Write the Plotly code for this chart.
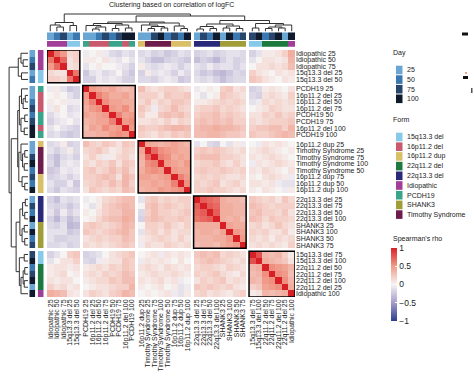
import plotly.graph_objects as go

W, H = 474, 379

labels = [
    "Idiopathic 25", "Idiopathic 50", "Idiopathic 75", "15q13.3 del 25", "15q13.3 del 50",
    "PCDH19 25", "16p11.2 del 25", "16p11.2 del 50", "16p11.2 del 75", "PCDH19 50", "PCDH19 75",
    "16p11.2 del 100", "PCDH19 100",
    "16p11.2 dup 25", "Timothy Syndrome 25", "Timothy Syndrome 75", "Timothy Syndrome 100",
    "Timothy Syndrome 50", "16p11.2 dup 75", "16p11.2 dup 50", "16p11.2 dup 100",
    "22q13.3 del 25", "22q13.3 del 75", "22q13.3 del 50", "22q13.3 del 100",
    "SHANK3 25", "SHANK3 100", "SHANK3 50", "SHANK3 75",
    "15q13.3 del 75", "15q13.3 del 100", "22q11.2 del 50", "22q11.2 del 75",
    "22q11.2 del 100", "22q11.2 del 25", "Idiopathic 100"]
block_sizes = [5, 8, 8, 8, 7]

# lower triangle of Spearman's rho (row i, columns 0..i-1); diagonal = 1
rho_lower = [
    [],
    [0.65],
    [0.5, 0.7],
    [0.15, 0.1, 0.1],
    [0.2, 0.2, 0.15, 0.65],
    [-0.05, 0.05, -0.1, -0.25, -0.2],
    [0.0, 0.05, 0.0, -0.1, -0.2, 0.5],
    [0.05, 0.0, 0.05, -0.05, -0.05, 0.45, 0.6],
    [-0.05, 0.1, 0.0, -0.15, -0.1, 0.4, 0.5, 0.55],
    [-0.15, -0.05, 0.0, -0.1, -0.05, 0.45, 0.4, 0.45, 0.5],
    [-0.2, -0.1, -0.05, 0.0, -0.1, 0.35, 0.4, 0.45, 0.45, 0.6],
    [-0.1, 0.0, -0.1, -0.15, -0.2, 0.3, 0.45, 0.4, 0.55, 0.45, 0.5],
    [-0.15, -0.1, -0.2, -0.25, -0.2, 0.35, 0.35, 0.4, 0.4, 0.5, 0.55, 0.5],
    [-0.15, -0.1, 0.05, -0.2, -0.15, 0.3, 0.2, 0.15, 0.25, 0.2, 0.1, 0.25, 0.2],
    [-0.1, -0.2, -0.1, 0.05, -0.15, 0.15, 0.2, 0.25, 0.15, 0.05, 0.1, 0.2, 0.15, 0.45],
    [-0.2, -0.3, -0.15, -0.1, -0.2, 0.1, 0.2, 0.1, -0.05, 0.05, 0.15, 0.2, 0.1, 0.4, 0.7],
    [-0.15, -0.3, -0.1, -0.05, -0.1, 0.15, 0.1, 0.2, 0.15, 0.25, 0.1, 0.25, 0.2, 0.35, 0.55, 0.6],
    [-0.25, -0.2, -0.05, -0.1, -0.05, 0.2, 0.25, 0.15, 0.2, 0.3, 0.2, 0.3, 0.15, 0.4, 0.5, 0.55, 0.5],
    [-0.2, -0.15, -0.1, -0.2, -0.1, 0.2, 0.2, 0.25, 0.3, 0.25, 0.1, 0.35, 0.25, 0.45, 0.45, 0.4, 0.45, 0.5],
    [-0.1, -0.2, -0.2, -0.05, -0.25, 0.15, 0.2, 0.25, 0.2, 0.3, 0.2, 0.35, 0.2, 0.4, 0.4, 0.45, 0.4, 0.45, 0.6],
    [-0.15, -0.25, -0.1, -0.15, -0.2, 0.1, 0.25, 0.2, 0.15, 0.2, 0.15, 0.3, 0.25, 0.35, 0.4, 0.4, 0.5, 0.45, 0.5, 0.55],
    [-0.2, -0.3, -0.1, -0.15, -0.1, -0.05, 0.0, 0.05, 0.15, 0.2, 0.25, 0.3, 0.3, -0.1, 0.2, 0.25, 0.15, 0.2, 0.15, 0.2, 0.2],
    [-0.15, -0.2, -0.15, -0.25, -0.15, 0.0, -0.1, 0.05, 0.2, 0.25, 0.3, 0.35, 0.3, 0.0, 0.25, 0.3, 0.2, 0.25, 0.2, 0.15, 0.2, 0.75],
    [-0.1, -0.25, -0.05, -0.2, -0.1, 0.05, 0.0, 0.1, 0.2, 0.25, 0.25, 0.35, 0.35, -0.15, 0.2, 0.3, 0.2, 0.2, 0.15, 0.2, 0.25, 0.7, 0.75],
    [-0.2, -0.35, -0.15, -0.3, -0.2, 0.0, 0.05, 0.15, 0.25, 0.3, 0.3, 0.4, 0.35, -0.2, 0.25, 0.3, 0.25, 0.2, 0.2, 0.25, 0.2, 0.65, 0.7, 0.75],
    [-0.15, -0.2, -0.1, -0.35, -0.3, 0.2, 0.25, 0.2, 0.15, 0.2, 0.25, 0.35, 0.3, 0.0, 0.2, 0.2, 0.15, 0.25, 0.15, 0.1, 0.2, 0.4, 0.4, 0.4, 0.4],
    [-0.1, -0.1, -0.1, -0.25, -0.2, 0.25, 0.2, 0.15, 0.2, 0.25, 0.3, 0.35, 0.25, -0.1, 0.15, 0.2, 0.1, 0.2, 0.1, 0.15, 0.15, 0.35, 0.4, 0.4, 0.35, 0.45],
    [-0.1, -0.2, -0.2, -0.15, -0.15, 0.1, 0.15, 0.2, 0.15, 0.2, 0.2, 0.3, 0.25, 0.05, 0.1, 0.15, 0.2, 0.15, 0.1, 0.2, 0.1, 0.35, 0.35, 0.35, 0.4, 0.4, 0.5],
    [-0.15, -0.15, -0.1, -0.2, -0.15, 0.15, 0.1, 0.15, 0.1, 0.15, 0.2, 0.25, 0.2, -0.05, 0.15, 0.1, 0.1, 0.2, 0.15, 0.1, 0.15, 0.3, 0.35, 0.35, 0.3, 0.4, 0.45, 0.5],
    [-0.2, -0.1, 0.0, 0.2, 0.25, -0.2, -0.15, -0.1, 0.0, 0.1, 0.15, 0.2, 0.25, 0.0, 0.05, 0.1, -0.05, 0.1, 0.05, 0.1, 0.05, 0.25, 0.3, 0.25, 0.3, 0.15, 0.2, 0.15, 0.1],
    [-0.1, 0.0, 0.1, 0.1, 0.2, -0.15, -0.2, -0.05, 0.05, 0.1, 0.1, 0.25, 0.2, -0.05, 0.1, 0.05, 0.1, 0.05, 0.0, 0.1, 0.0, 0.2, 0.25, 0.3, 0.25, 0.2, 0.15, 0.1, 0.15, 0.8],
    [0.05, 0.1, 0.1, 0.05, 0.1, 0.05, 0.1, 0.15, 0.1, 0.2, 0.15, 0.25, 0.2, 0.1, 0.15, 0.1, 0.05, 0.15, 0.1, 0.05, 0.1, 0.15, 0.2, 0.2, 0.15, 0.1, 0.2, 0.15, 0.1, 0.35, 0.4],
    [0.05, 0.1, 0.15, 0.0, 0.05, 0.1, 0.15, 0.1, 0.2, 0.15, 0.2, 0.3, 0.25, 0.05, 0.1, 0.15, 0.1, 0.1, 0.15, 0.1, 0.05, 0.2, 0.15, 0.2, 0.25, 0.15, 0.1, 0.05, 0.15, 0.3, 0.35, 0.55],
    [0.1, 0.05, 0.1, 0.1, 0.0, 0.05, 0.1, 0.15, 0.15, 0.25, 0.2, 0.3, 0.3, 0.1, 0.05, 0.1, 0.15, 0.05, 0.1, -0.05, 0.0, 0.1, 0.2, 0.15, 0.2, 0.25, 0.1, 0.15, 0.1, 0.35, 0.3, 0.5, 0.55],
    [0.2, 0.1, 0.15, 0.05, 0.1, 0.0, 0.05, 0.1, 0.1, 0.15, 0.2, 0.2, 0.35, 0.05, 0.0, 0.05, 0.1, 0.0, 0.05, -0.1, -0.05, 0.25, 0.2, 0.25, 0.2, 0.15, 0.2, 0.1, 0.05, 0.2, 0.25, 0.45, 0.5, 0.55],
    [0.4, 0.35, 0.3, 0.1, 0.05, 0.1, 0.2, 0.15, 0.1, 0.2, 0.25, 0.35, 0.3, 0.0, 0.05, 0.0, 0.05, 0.1, -0.05, -0.1, 0.05, 0.15, 0.2, 0.1, 0.15, 0.1, 0.05, 0.15, 0.2, 0.05, 0.1, 0.35, 0.3, 0.35, 0.4],
]

# dendrogram (same for rows and columns): [height, left, right], leaves are label indices
block1 = [9.0, [6.5, 0, [4.5, 1, 2]], [6.0, 3, 4]]
block2 = [8.0, [6.0, 5, [4.5, [2.5, 6, 7], 8]], [6.5, [3.0, 9, 10], [3.5, 11, 12]]]
block3 = [8.5, [6.5, 13, [5.0, [3.0, 14, 15], [3.5, 16, 17]]], [5.5, 18, [3.0, 19, 20]]]
block4 = [7.5, [5.0, [2.5, 21, 22], [3.0, 23, 24]], [5.5, [3.5, 25, 26], [3.0, 27, 28]]]
block5 = [8.0, [3.5, 29, 30], [6.5, [4.5, [3.0, 31, 32], [3.5, 33, 34]], 35]]
tree = [17.5, block1, [15.5, [9.5, block2, block3], [11.0, block4, block5]]]

day_levels = ["25", "50", "75", "100"]
day_colors = ["#6aa6d4", "#3b78b0", "#28466b", "#0f1b2d"]
form_levels = ["15q13.3 del", "16p11.2 del", "16p11.2 dup", "22q11.2 del", "22q13.3 del",
               "Idiopathic", "PCDH19", "SHANK3", "Timothy Syndrome"]
form_colors = ["#86c9e8", "#c9596c", "#d9c068", "#1d7a3e", "#2a2878",
               "#a23e98", "#3aa38b", "#a19e3a", "#6d1c4b"]

rho_scale = [[0.0, "#2c3c8f"], [0.25, "#a69dca"], [0.5, "#f6f3f3"],
             [0.75, "#f09b89"], [1.0, "#d91f26"]]

TXT = "#222222"
FONT = "Liberation Sans, Arial, sans-serif"
FS = 7.0

# ---------------- build matrix ----------------
n = len(labels)
assert sum(block_sizes) == n
for i, r in enumerate(rho_lower):
    assert len(r) == i, i
M = [[1.0] * n for _ in range(n)]
for i in range(n):
    for j in range(i):
        M[i][j] = rho_lower[i][j]
        M[j][i] = rho_lower[i][j]

GAP = 0.44
slots = []
start = 0
for b, s in enumerate(block_sizes):
    slots.extend(range(start, start + s))
    start += s
    if b < len(block_sizes) - 1:
        slots.append(None)
edges = [0.0]
for s in slots:
    edges.append(edges[-1] + (1.0 if s is not None else GAP))
T = edges[-1]
center = {}
for k, s in enumerate(slots):
    if s is not None:
        center[s] = (edges[k] + edges[k + 1]) / 2
z_disp = [[(M[a][b] if (a is not None and b is not None) else None) for b in slots] for a in slots]

spans = []
start = 0
for s in block_sizes:
    spans.append((center[start] - 0.5, center[start + s - 1] + 0.5))
    start += s

forms = [lab.rsplit(" ", 1)[0] for lab in labels]
days = [lab.rsplit(" ", 1)[1] for lab in labels]
form_code = [form_levels.index(f) for f in forms]
day_code = [day_levels.index(d) for d in days]


def step_scale(colors):
    k = len(colors)
    sc = []
    for i, c in enumerate(colors):
        sc.append([i / k, c])
        sc.append([(i + 1) / k, c])
    return sc


def xf(p):
    return p / W


def yf(p):
    return 1 - p / H


dx, dh = [], []


def walk(node):
    if isinstance(node, int):
        return center[node], 0.0
    h, l, r = node
    xl, hl = walk(l)
    xr, hr = walk(r)
    dx.extend([xl, xl, xr, xr, None])
    dh.extend([hl, h, h, hr, None])
    return (xl + xr) / 2, h


walk(tree)

fig = go.Figure()

fig.add_trace(go.Heatmap(
    z=z_disp, x=edges, y=edges, zmin=-1, zmax=1, colorscale=rho_scale,
    hoverinfo="skip", xaxis="x", yaxis="y",
    colorbar=dict(x=xf(391), xanchor="left", y=yf(284.5), yanchor="middle",
                  len=73 / H, lenmode="fraction", thickness=6, thicknessmode="pixels",
                  xpad=0, ypad=0, outlinewidth=0,
                  tickvals=[-1, -0.5, 0, 0.5, 1], ticktext=["\u22121", "\u22120.5", "0", "0.5", "1"],
                  ticks="inside", ticklen=2, tickcolor="white", tickwidth=1,
                  tickfont=dict(size=8.5, color=TXT, family=FONT)),
))

top_day = [[(day_code[s] + 0.5 if s is not None else None) for s in slots]]
top_form = [[(form_code[s] + 0.5 if s is not None else None) for s in slots]]
fig.add_trace(go.Heatmap(z=top_day, x=edges, y=[0, 1], zmin=0, zmax=len(day_levels),
                         colorscale=step_scale(day_colors), showscale=False, hoverinfo="skip",
                         xaxis="x2", yaxis="y4"))
fig.add_trace(go.Heatmap(z=top_form, x=edges, y=[0, 1], zmin=0, zmax=len(form_levels),
                         colorscale=step_scale(form_colors), showscale=False, hoverinfo="skip",
                         xaxis="x2", yaxis="y5"))
left_day = [[(day_code[s] + 0.5 if s is not None else None)] for s in slots]
left_form = [[(form_code[s] + 0.5 if s is not None else None)] for s in slots]
fig.add_trace(go.Heatmap(z=left_day, x=[0, 1], y=edges, zmin=0, zmax=len(day_levels),
                         colorscale=step_scale(day_colors), showscale=False, hoverinfo="skip",
                         xaxis="x4", yaxis="y3"))
fig.add_trace(go.Heatmap(z=left_form, x=[0, 1], y=edges, zmin=0, zmax=len(form_levels),
                         colorscale=step_scale(form_colors), showscale=False, hoverinfo="skip",
                         xaxis="x5", yaxis="y3"))

fig.add_trace(go.Scatter(x=dx, y=dh, mode="lines", line=dict(color="#333333", width=1),
                         hoverinfo="skip", xaxis="x2", yaxis="y2"))
fig.add_trace(go.Scatter(x=dh, y=dx, mode="lines", line=dict(color="#333333", width=1),
                         hoverinfo="skip", xaxis="x3", yaxis="y3"))

for a, b in spans:
    fig.add_shape(type="rect", xref="x", yref="y", x0=a, x1=b, y0=a, y1=b,
                  line=dict(color="black", width=1.5), fillcolor="rgba(0,0,0,0)")

ann = []
ann.append(dict(x=xf(171), y=yf(4.5), xref="paper", yref="paper", text="Clustering based on correlation of logFC",
                showarrow=False, xanchor="center", yanchor="middle", font=dict(size=FS, color=TXT, family=FONT)))


def legend_block(title, levels, colors, y_title, y_first, step):
    ann.append(dict(x=xf(391), y=yf(y_title), xref="paper", yref="paper", text=title, showarrow=False,
                    xanchor="left", yanchor="middle", font=dict(size=FS, color=TXT, family=FONT)))
    for k, (lv, c) in enumerate(zip(levels, colors)):
        yc = y_first + k * step
        fig.add_shape(type="rect", xref="paper", yref="paper", x0=xf(396), x1=xf(402.5),
                      y0=yf(yc + 4.3), y1=yf(yc - 4.3), line=dict(width=0), fillcolor=c)
        ann.append(dict(x=xf(404.5), y=yf(yc), xref="paper", yref="paper", text=lv, showarrow=False,
                        xanchor="left", yanchor="middle", font=dict(size=FS, color=TXT, family=FONT)))


legend_block("Day", day_levels, day_colors, 53, 70, 9.6)
legend_block("Form", form_levels, form_colors, 119, 137, 9.7)
ann.append(dict(x=xf(391), y=yf(239), xref="paper", yref="paper", text="Spearman's rho", showarrow=False,
                xanchor="left", yanchor="middle", font=dict(size=FS, color=TXT, family=FONT)))

for (x0, x1, y0, y1, c) in [(462, 468, 32.5, 35.5, "#111111"), (463, 468, 76, 79, "#111111"),
                            (465, 467, 72, 74, "#e8a090"), (471, 472.5, 88, 93, "#555555")]:
    fig.add_shape(type="rect", xref="paper", yref="paper", x0=xf(x0), x1=xf(x1), y0=yf(y1), y1=yf(y0),
                  line=dict(width=0), fillcolor=c)

tick_font = dict(size=FS, color=TXT, family=FONT)
centers = [center[i] for i in range(n)]
fig.update_layout(
    width=W, height=H, margin=dict(l=0, r=0, t=0, b=0),
    paper_bgcolor="white", plot_bgcolor="rgba(0,0,0,0)", showlegend=False,
    font=dict(family=FONT, color=TXT, size=FS),
    annotations=ann,
    xaxis=dict(domain=[xf(47), xf(295)], range=[0, T], anchor="y", tickvals=centers, ticktext=labels,
               tickangle=-90, tickfont=tick_font, showgrid=False, zeroline=False, showline=False,
               ticks="", ticklabelstandoff=0),
    yaxis=dict(domain=[yf(297), yf(50)], range=[T, 0], anchor="x", side="right", tickvals=centers,
               ticktext=labels, tickfont=tick_font, showgrid=False, zeroline=False, showline=False,
               ticks="", ticklabelstandoff=0),
    xaxis2=dict(domain=[xf(47), xf(295)], range=[0, T], anchor="y2", visible=False),
    yaxis2=dict(domain=[yf(31.5), yf(13)], range=[0, 18.5], anchor="x2", visible=False),
    xaxis3=dict(domain=[xf(8), xf(28)], range=[18.5, 0], anchor="y3", visible=False),
    yaxis3=dict(domain=[yf(297), yf(50)], range=[T, 0], anchor="x3", visible=False),
    yaxis4=dict(domain=[yf(40), yf(32.3)], range=[0, 1], anchor="x2", visible=False),
    yaxis5=dict(domain=[yf(46.8), yf(41)], range=[0, 1], anchor="x2", visible=False),
    xaxis4=dict(domain=[xf(29.3), xf(35.3)], range=[0, 1], anchor="y3", visible=False),
    xaxis5=dict(domain=[xf(37.7), xf(43.7)], range=[0, 1], anchor="y3", visible=False),
)

fig.write_html("out.html", config={"displayModeBar": False},
               post_script="document.body.style.margin='0';document.body.style.padding='0';")
